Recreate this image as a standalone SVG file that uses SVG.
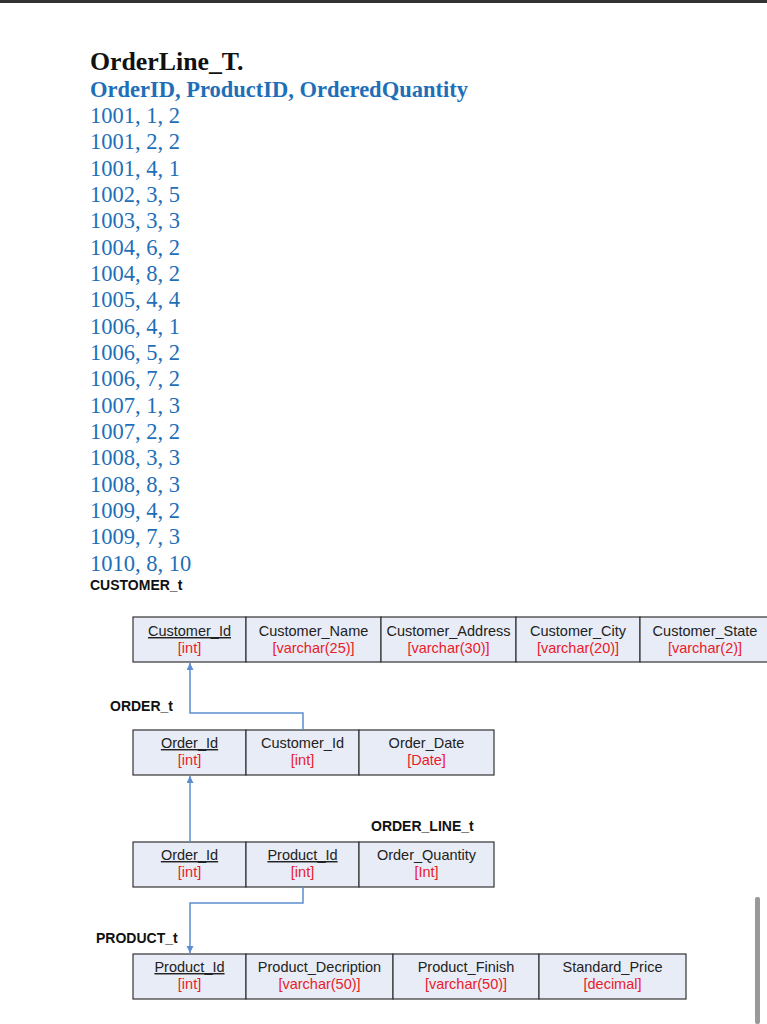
<svg xmlns="http://www.w3.org/2000/svg" width="767" height="1024" viewBox="0 0 767 1024">
<style>
.h{font-family:"Liberation Serif",serif;font-weight:bold;font-size:25.8px;fill:#111}
.b{font-family:"Liberation Serif",serif;font-size:22.5px;fill:#1e6fb8}
.bb{font-weight:bold}
.lbl{font-family:"Liberation Sans",Arial,sans-serif;font-weight:bold;font-size:14px;fill:#111}
.c{fill:#e8ecf6;stroke:#333;stroke-width:1.2}
.n{font-family:"Liberation Sans",Arial,sans-serif;font-size:14.5px;fill:#222;text-anchor:middle}
.u{text-decoration:underline}
.t{font-family:"Liberation Sans",Arial,sans-serif;font-size:14.5px;fill:#e8202a;text-anchor:middle}
.cn{fill:none;stroke:#5b8fd0;stroke-width:1.5}
</style>
<defs><marker id="a" markerWidth="8" markerHeight="8" refX="7" refY="3.5" orient="auto" markerUnits="userSpaceOnUse"><path d="M0,0 L7,3.5 L0,7 Z" fill="#5b8fd0"/></marker></defs>
<rect x="0" y="0" width="767" height="3" fill="#333"/>
<rect x="755" y="897" width="5" height="127" rx="2" fill="#999"/>
<text class="h" x="90" y="70">OrderLine_T.</text>
<text class="b bb" x="90" y="97">OrderID, ProductID, OrderedQuantity</text>
<g class="b">
<text x="90" y="123">1001, 1, 2</text>
<text x="90" y="149">1001, 2, 2</text>
<text x="90" y="176">1001, 4, 1</text>
<text x="90" y="202">1002, 3, 5</text>
<text x="90" y="228">1003, 3, 3</text>
<text x="90" y="255">1004, 6, 2</text>
<text x="90" y="281">1004, 8, 2</text>
<text x="90" y="307">1005, 4, 4</text>
<text x="90" y="334">1006, 4, 1</text>
<text x="90" y="360">1006, 5, 2</text>
<text x="90" y="386">1006, 7, 2</text>
<text x="90" y="413">1007, 1, 3</text>
<text x="90" y="439">1007, 2, 2</text>
<text x="90" y="465">1008, 3, 3</text>
<text x="90" y="492">1008, 8, 3</text>
<text x="90" y="518">1009, 4, 2</text>
<text x="90" y="544">1009, 7, 3</text>
<text x="90" y="571">1010, 8, 10</text>
</g>
<g id="customer">
<text class="lbl" x="90" y="590">CUSTOMER_t</text>
<rect class="c" x="133" y="617" width="113" height="45"/><text class="n u" x="189.5" y="636">Customer_Id</text><text class="t" x="189.5" y="653">[int]</text>
<rect class="c" x="246" y="617" width="135" height="45"/><text class="n" x="313.5" y="636">Customer_Name</text><text class="t" x="313.5" y="653">[varchar(25)]</text>
<rect class="c" x="381" y="617" width="135" height="45"/><text class="n" x="448.5" y="636">Customer_Address</text><text class="t" x="448.5" y="653">[varchar(30)]</text>
<rect class="c" x="516" y="617" width="124" height="45"/><text class="n" x="578" y="636">Customer_City</text><text class="t" x="578" y="653">[varchar(20)]</text>
<rect class="c" x="640" y="617" width="130" height="45"/><text class="n" x="705" y="636">Customer_State</text><text class="t" x="705" y="653">[varchar(2)]</text>
</g>
<g id="order">
<text class="lbl" x="110" y="711">ORDER_t</text>
<rect class="c" x="133" y="730" width="113" height="45"/><text class="n u" x="189.5" y="748">Order_Id</text><text class="t" x="189.5" y="765">[int]</text>
<rect class="c" x="246" y="730" width="113" height="45"/><text class="n" x="302.5" y="748">Customer_Id</text><text class="t" x="302.5" y="765">[int]</text>
<rect class="c" x="359" y="730" width="135" height="45"/><text class="n" x="426.5" y="748">Order_Date</text><text class="t" x="426.5" y="765">[Date]</text>
</g>
<g id="orderline">
<text class="lbl" x="371" y="831">ORDER_LINE_t</text>
<rect class="c" x="133" y="842" width="113" height="45"/><text class="n u" x="189.5" y="860">Order_Id</text><text class="t" x="189.5" y="877">[int]</text>
<rect class="c" x="246" y="842" width="113" height="45"/><text class="n u" x="302.5" y="860">Product_Id</text><text class="t" x="302.5" y="877">[int]</text>
<rect class="c" x="359" y="842" width="135" height="45"/><text class="n" x="426.5" y="860">Order_Quantity</text><text class="t" x="426.5" y="877">[Int]</text>
</g>
<g id="product">
<text class="lbl" x="96" y="943">PRODUCT_t</text>
<rect class="c" x="133" y="954" width="113" height="45"/><text class="n u" x="189.5" y="972">Product_Id</text><text class="t" x="189.5" y="989">[int]</text>
<rect class="c" x="246" y="954" width="147" height="45"/><text class="n" x="319.5" y="972">Product_Decription</text><text class="t" x="319.5" y="989">[varchar(50)]</text>
<rect class="c" x="393" y="954" width="146" height="45"/><text class="n" x="466" y="972">Product_Finish</text><text class="t" x="466" y="989">[varchar(50)]</text>
<rect class="c" x="539" y="954" width="147" height="45"/><text class="n" x="612.5" y="972">Standard_Price</text><text class="t" x="612.5" y="989">[decimal]</text>
</g>
<g id="connectors">
<path class="cn" d="M303,730 V713 H190 V663" marker-end="url(#a)"/>
<path class="cn" d="M190,842 V776" marker-end="url(#a)"/>
<path class="cn" d="M303,887 V903 H190 V953" marker-end="url(#a)"/>
</g>
</svg>
